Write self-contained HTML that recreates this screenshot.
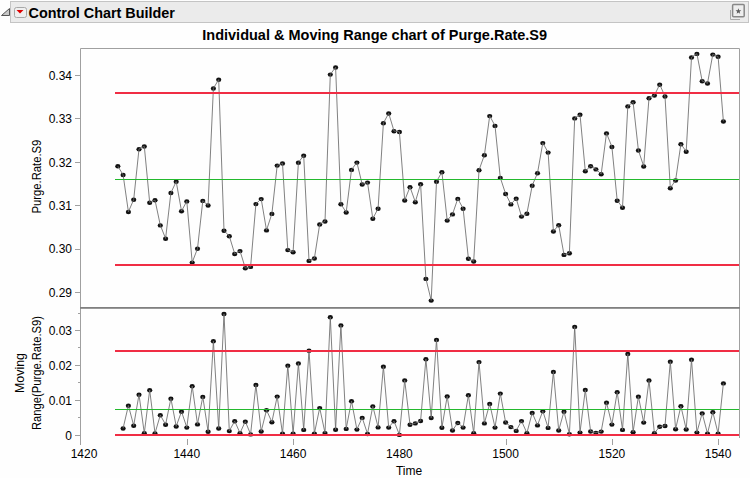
<!DOCTYPE html>
<html><head><meta charset="utf-8"><style>
html,body{margin:0;padding:0;background:#fefefe;}
body{width:750px;height:478px;overflow:hidden;position:relative;font-family:"Liberation Sans", sans-serif;}
svg{position:absolute;left:0;top:0;}
text{font-family:"Liberation Sans", sans-serif;}
</style></head><body>
<svg width="750" height="478" viewBox="0 0 750 478">
<!-- header -->
<rect x="10.5" y="1.5" width="738" height="21" fill="#ebebeb" stroke="#c4c4c4" stroke-width="1"/>
<path d="M1.5 15.5 L9.5 8.5 L9.5 15.5 Z" fill="#c8c8c8" stroke="#555" stroke-width="1" stroke-linejoin="round"/>
<rect x="14.5" y="7.5" width="12" height="10" rx="2" fill="#efefef" stroke="#a8a8a8" stroke-width="1"/>
<path d="M16.5 10 L23.5 10 L20 13.6 Z" fill="#dd0000"/>
<text x="28.6" y="17.6" font-size="14.4" font-weight="bold" fill="#000">Control Chart Builder</text>
<rect x="732.6" y="4.6" width="11.6" height="12.2" rx="1" fill="#eeeeee" stroke="#888" stroke-width="1.5"/>
<path d="M730.5 10 L730.5 19.5 L740 19.5" fill="none" stroke="#aaa" stroke-width="1"/>
<path d="M738.40 8.60 L739.13 10.59 L741.25 10.67 L739.59 11.99 L740.16 14.03 L738.40 12.85 L736.64 14.03 L737.21 11.99 L735.55 10.67 L737.67 10.59 Z" fill="#5c5c5c" transform="translate(0 -0.3)"/>
<!-- title -->
<text x="374.7" y="40" font-size="14.5" font-weight="bold" text-anchor="middle" fill="#000">Individual &amp; Moving Range chart of Purge.Rate.S9</text>
<!-- frames -->
<path d="M80.5 48.5 L739.5 48.5 L739.5 438 M80.5 48.5 L80.5 445" fill="none" stroke="#a0a0a0" stroke-width="1"/>
<rect x="80" y="307" width="660" height="1.8" fill="#808080"/>
<!-- upper ticks -->
<g stroke="#a0a0a0" stroke-width="1">
<line x1="75" y1="75.5" x2="80" y2="75.5"/><line x1="75" y1="118.5" x2="80" y2="118.5"/><line x1="75" y1="162.5" x2="80" y2="162.5"/><line x1="75" y1="205.5" x2="80" y2="205.5"/><line x1="75" y1="249.5" x2="80" y2="249.5"/><line x1="75" y1="292.5" x2="80" y2="292.5"/><line x1="75" y1="435.5" x2="80" y2="435.5"/><line x1="75" y1="400.5" x2="80" y2="400.5"/><line x1="75" y1="365.5" x2="80" y2="365.5"/><line x1="75" y1="330.5" x2="80" y2="330.5"/><line x1="78" y1="417.5" x2="80" y2="417.5"/><line x1="78" y1="382.5" x2="80" y2="382.5"/><line x1="78" y1="347.5" x2="80" y2="347.5"/><line x1="78" y1="313.5" x2="80" y2="313.5"/><line x1="187.5" y1="439" x2="187.5" y2="445"/><line x1="293.5" y1="439" x2="293.5" y2="445"/><line x1="506.5" y1="439" x2="506.5" y2="445"/><line x1="612.5" y1="439" x2="612.5" y2="445"/><line x1="718.5" y1="439" x2="718.5" y2="445"/></g>
<g font-size="12" fill="#000" text-anchor="end"><text x="72" y="79.7">0.34</text><text x="72" y="123.1">0.33</text><text x="72" y="166.5">0.32</text><text x="72" y="209.9">0.31</text><text x="72" y="253.3">0.30</text><text x="72" y="296.7">0.29</text><text x="72" y="439.5">0</text><text x="72" y="404.6">0.01</text><text x="72" y="369.6">0.02</text><text x="72" y="334.7">0.03</text></g>
<g font-size="12" fill="#000" text-anchor="middle"><text x="84.0" y="458">1420</text><text x="186.8" y="458">1440</text><text x="293.1" y="458">1460</text><text x="399.4" y="458">1480</text><text x="505.6" y="458">1500</text><text x="611.9" y="458">1520</text><text x="718.1" y="458">1540</text></g>
<text x="409" y="475" font-size="12" text-anchor="middle" fill="#000">Time</text>
<text transform="translate(40.7 176.6) rotate(-90)" font-size="12" text-anchor="middle" fill="#000" textLength="74" lengthAdjust="spacingAndGlyphs">Purge.Rate.S9</text>
<text transform="translate(24 373) rotate(-90)" font-size="12" text-anchor="middle" fill="#000" textLength="40" lengthAdjust="spacingAndGlyphs">Moving</text>
<text transform="translate(41 373) rotate(-90)" font-size="12" text-anchor="middle" fill="#000" textLength="114" lengthAdjust="spacingAndGlyphs">Range(Purge.Rate.S9)</text>
<g fill="#111"><ellipse cx="117.8" cy="166.3" rx="2.6" ry="2.2"/><ellipse cx="123.1" cy="175.0" rx="2.6" ry="2.2"/><ellipse cx="128.4" cy="212.0" rx="2.6" ry="2.2"/><ellipse cx="133.7" cy="199.8" rx="2.6" ry="2.2"/><ellipse cx="139.0" cy="149.2" rx="2.6" ry="2.2"/><ellipse cx="144.3" cy="146.5" rx="2.6" ry="2.2"/><ellipse cx="149.7" cy="202.8" rx="2.6" ry="2.2"/><ellipse cx="155.0" cy="200.3" rx="2.6" ry="2.2"/><ellipse cx="160.3" cy="225.4" rx="2.6" ry="2.2"/><ellipse cx="165.6" cy="238.7" rx="2.6" ry="2.2"/><ellipse cx="170.9" cy="193.0" rx="2.6" ry="2.2"/><ellipse cx="176.2" cy="181.8" rx="2.6" ry="2.2"/><ellipse cx="181.5" cy="211.2" rx="2.6" ry="2.2"/><ellipse cx="186.8" cy="201.4" rx="2.6" ry="2.2"/><ellipse cx="192.2" cy="262.6" rx="2.6" ry="2.2"/><ellipse cx="197.5" cy="248.8" rx="2.6" ry="2.2"/><ellipse cx="202.8" cy="200.9" rx="2.6" ry="2.2"/><ellipse cx="208.1" cy="205.5" rx="2.6" ry="2.2"/><ellipse cx="213.4" cy="88.5" rx="2.6" ry="2.2"/><ellipse cx="218.7" cy="79.8" rx="2.6" ry="2.2"/><ellipse cx="224.0" cy="230.8" rx="2.6" ry="2.2"/><ellipse cx="229.3" cy="236.3" rx="2.6" ry="2.2"/><ellipse cx="234.7" cy="254.0" rx="2.6" ry="2.2"/><ellipse cx="240.0" cy="251.1" rx="2.6" ry="2.2"/><ellipse cx="245.3" cy="268.3" rx="2.6" ry="2.2"/><ellipse cx="250.6" cy="266.9" rx="2.6" ry="2.2"/><ellipse cx="255.9" cy="204.1" rx="2.6" ry="2.2"/><ellipse cx="261.2" cy="199.1" rx="2.6" ry="2.2"/><ellipse cx="266.5" cy="230.4" rx="2.6" ry="2.2"/><ellipse cx="271.9" cy="213.9" rx="2.6" ry="2.2"/><ellipse cx="277.2" cy="165.6" rx="2.6" ry="2.2"/><ellipse cx="282.5" cy="163.5" rx="2.6" ry="2.2"/><ellipse cx="287.8" cy="250.1" rx="2.6" ry="2.2"/><ellipse cx="293.1" cy="252.2" rx="2.6" ry="2.2"/><ellipse cx="298.4" cy="162.7" rx="2.6" ry="2.2"/><ellipse cx="303.7" cy="155.7" rx="2.6" ry="2.2"/><ellipse cx="309.0" cy="260.9" rx="2.6" ry="2.2"/><ellipse cx="314.4" cy="258.5" rx="2.6" ry="2.2"/><ellipse cx="319.7" cy="224.5" rx="2.6" ry="2.2"/><ellipse cx="325.0" cy="221.5" rx="2.6" ry="2.2"/><ellipse cx="330.3" cy="74.6" rx="2.6" ry="2.2"/><ellipse cx="335.6" cy="67.5" rx="2.6" ry="2.2"/><ellipse cx="340.9" cy="204.3" rx="2.6" ry="2.2"/><ellipse cx="346.2" cy="212.5" rx="2.6" ry="2.2"/><ellipse cx="351.5" cy="169.9" rx="2.6" ry="2.2"/><ellipse cx="356.9" cy="162.6" rx="2.6" ry="2.2"/><ellipse cx="362.2" cy="184.5" rx="2.6" ry="2.2"/><ellipse cx="367.5" cy="182.6" rx="2.6" ry="2.2"/><ellipse cx="372.8" cy="218.8" rx="2.6" ry="2.2"/><ellipse cx="378.1" cy="208.7" rx="2.6" ry="2.2"/><ellipse cx="383.4" cy="123.3" rx="2.6" ry="2.2"/><ellipse cx="388.7" cy="113.5" rx="2.6" ry="2.2"/><ellipse cx="394.0" cy="131.2" rx="2.6" ry="2.2"/><ellipse cx="399.4" cy="132.0" rx="2.6" ry="2.2"/><ellipse cx="404.7" cy="200.5" rx="2.6" ry="2.2"/><ellipse cx="410.0" cy="187.2" rx="2.6" ry="2.2"/><ellipse cx="415.3" cy="202.2" rx="2.6" ry="2.2"/><ellipse cx="420.6" cy="184.2" rx="2.6" ry="2.2"/><ellipse cx="425.9" cy="278.9" rx="2.6" ry="2.2"/><ellipse cx="431.2" cy="300.6" rx="2.6" ry="2.2"/><ellipse cx="436.5" cy="181.8" rx="2.6" ry="2.2"/><ellipse cx="441.9" cy="172.2" rx="2.6" ry="2.2"/><ellipse cx="447.2" cy="220.6" rx="2.6" ry="2.2"/><ellipse cx="452.5" cy="214.4" rx="2.6" ry="2.2"/><ellipse cx="457.8" cy="198.9" rx="2.6" ry="2.2"/><ellipse cx="463.1" cy="208.7" rx="2.6" ry="2.2"/><ellipse cx="468.4" cy="258.7" rx="2.6" ry="2.2"/><ellipse cx="473.7" cy="261.5" rx="2.6" ry="2.2"/><ellipse cx="479.0" cy="170.3" rx="2.6" ry="2.2"/><ellipse cx="484.4" cy="155.3" rx="2.6" ry="2.2"/><ellipse cx="489.7" cy="116.1" rx="2.6" ry="2.2"/><ellipse cx="495.0" cy="125.9" rx="2.6" ry="2.2"/><ellipse cx="500.3" cy="177.9" rx="2.6" ry="2.2"/><ellipse cx="505.6" cy="194.0" rx="2.6" ry="2.2"/><ellipse cx="510.9" cy="204.4" rx="2.6" ry="2.2"/><ellipse cx="516.2" cy="198.7" rx="2.6" ry="2.2"/><ellipse cx="521.5" cy="216.6" rx="2.6" ry="2.2"/><ellipse cx="526.9" cy="213.8" rx="2.6" ry="2.2"/><ellipse cx="532.2" cy="185.8" rx="2.6" ry="2.2"/><ellipse cx="537.5" cy="173.3" rx="2.6" ry="2.2"/><ellipse cx="542.8" cy="143.1" rx="2.6" ry="2.2"/><ellipse cx="548.1" cy="152.6" rx="2.6" ry="2.2"/><ellipse cx="553.4" cy="231.5" rx="2.6" ry="2.2"/><ellipse cx="558.7" cy="225.3" rx="2.6" ry="2.2"/><ellipse cx="564.0" cy="254.9" rx="2.6" ry="2.2"/><ellipse cx="569.4" cy="253.3" rx="2.6" ry="2.2"/><ellipse cx="574.7" cy="118.4" rx="2.6" ry="2.2"/><ellipse cx="580.0" cy="114.8" rx="2.6" ry="2.2"/><ellipse cx="585.3" cy="171.3" rx="2.6" ry="2.2"/><ellipse cx="590.6" cy="166.3" rx="2.6" ry="2.2"/><ellipse cx="595.9" cy="169.4" rx="2.6" ry="2.2"/><ellipse cx="601.2" cy="174.2" rx="2.6" ry="2.2"/><ellipse cx="606.5" cy="133.4" rx="2.6" ry="2.2"/><ellipse cx="611.9" cy="147.0" rx="2.6" ry="2.2"/><ellipse cx="617.2" cy="200.7" rx="2.6" ry="2.2"/><ellipse cx="622.5" cy="207.7" rx="2.6" ry="2.2"/><ellipse cx="627.8" cy="106.4" rx="2.6" ry="2.2"/><ellipse cx="633.1" cy="102.3" rx="2.6" ry="2.2"/><ellipse cx="638.4" cy="150.5" rx="2.6" ry="2.2"/><ellipse cx="643.7" cy="166.5" rx="2.6" ry="2.2"/><ellipse cx="649.0" cy="98.2" rx="2.6" ry="2.2"/><ellipse cx="654.4" cy="95.5" rx="2.6" ry="2.2"/><ellipse cx="659.7" cy="84.7" rx="2.6" ry="2.2"/><ellipse cx="665.0" cy="96.5" rx="2.6" ry="2.2"/><ellipse cx="670.3" cy="188.2" rx="2.6" ry="2.2"/><ellipse cx="675.6" cy="180.5" rx="2.6" ry="2.2"/><ellipse cx="680.9" cy="144.2" rx="2.6" ry="2.2"/><ellipse cx="686.2" cy="151.7" rx="2.6" ry="2.2"/><ellipse cx="691.5" cy="57.5" rx="2.6" ry="2.2"/><ellipse cx="696.9" cy="53.9" rx="2.6" ry="2.2"/><ellipse cx="702.2" cy="81.3" rx="2.6" ry="2.2"/><ellipse cx="707.5" cy="83.5" rx="2.6" ry="2.2"/><ellipse cx="712.8" cy="54.6" rx="2.6" ry="2.2"/><ellipse cx="718.1" cy="56.8" rx="2.6" ry="2.2"/><ellipse cx="723.4" cy="121.5" rx="2.6" ry="2.2"/><ellipse cx="123.1" cy="428.5" rx="2.6" ry="2.2"/><ellipse cx="128.4" cy="405.7" rx="2.6" ry="2.2"/><ellipse cx="133.7" cy="425.7" rx="2.6" ry="2.2"/><ellipse cx="139.0" cy="394.8" rx="2.6" ry="2.2"/><ellipse cx="144.3" cy="433.3" rx="2.6" ry="2.2"/><ellipse cx="149.7" cy="390.2" rx="2.6" ry="2.2"/><ellipse cx="155.0" cy="433.5" rx="2.6" ry="2.2"/><ellipse cx="160.3" cy="415.3" rx="2.6" ry="2.2"/><ellipse cx="165.6" cy="424.8" rx="2.6" ry="2.2"/><ellipse cx="170.9" cy="398.7" rx="2.6" ry="2.2"/><ellipse cx="176.2" cy="426.5" rx="2.6" ry="2.2"/><ellipse cx="181.5" cy="411.8" rx="2.6" ry="2.2"/><ellipse cx="186.8" cy="427.6" rx="2.6" ry="2.2"/><ellipse cx="192.2" cy="386.2" rx="2.6" ry="2.2"/><ellipse cx="197.5" cy="424.4" rx="2.6" ry="2.2"/><ellipse cx="202.8" cy="396.9" rx="2.6" ry="2.2"/><ellipse cx="208.1" cy="431.8" rx="2.6" ry="2.2"/><ellipse cx="213.4" cy="341.3" rx="2.6" ry="2.2"/><ellipse cx="218.7" cy="428.5" rx="2.6" ry="2.2"/><ellipse cx="224.0" cy="314.0" rx="2.6" ry="2.2"/><ellipse cx="229.3" cy="431.1" rx="2.6" ry="2.2"/><ellipse cx="234.7" cy="421.3" rx="2.6" ry="2.2"/><ellipse cx="240.0" cy="433.2" rx="2.6" ry="2.2"/><ellipse cx="245.3" cy="421.7" rx="2.6" ry="2.2"/><ellipse cx="250.6" cy="434.4" rx="2.6" ry="2.2"/><ellipse cx="255.9" cy="385.0" rx="2.6" ry="2.2"/><ellipse cx="261.2" cy="431.5" rx="2.6" ry="2.2"/><ellipse cx="266.5" cy="410.3" rx="2.6" ry="2.2"/><ellipse cx="271.9" cy="422.2" rx="2.6" ry="2.2"/><ellipse cx="277.2" cy="396.6" rx="2.6" ry="2.2"/><ellipse cx="282.5" cy="433.8" rx="2.6" ry="2.2"/><ellipse cx="287.8" cy="365.8" rx="2.6" ry="2.2"/><ellipse cx="293.1" cy="433.8" rx="2.6" ry="2.2"/><ellipse cx="298.4" cy="363.5" rx="2.6" ry="2.2"/><ellipse cx="303.7" cy="429.9" rx="2.6" ry="2.2"/><ellipse cx="309.0" cy="350.8" rx="2.6" ry="2.2"/><ellipse cx="314.4" cy="433.6" rx="2.6" ry="2.2"/><ellipse cx="319.7" cy="408.1" rx="2.6" ry="2.2"/><ellipse cx="325.0" cy="433.1" rx="2.6" ry="2.2"/><ellipse cx="330.3" cy="317.3" rx="2.6" ry="2.2"/><ellipse cx="335.6" cy="429.8" rx="2.6" ry="2.2"/><ellipse cx="340.9" cy="325.4" rx="2.6" ry="2.2"/><ellipse cx="346.2" cy="428.9" rx="2.6" ry="2.2"/><ellipse cx="351.5" cy="401.2" rx="2.6" ry="2.2"/><ellipse cx="356.9" cy="429.6" rx="2.6" ry="2.2"/><ellipse cx="362.2" cy="417.9" rx="2.6" ry="2.2"/><ellipse cx="367.5" cy="434.0" rx="2.6" ry="2.2"/><ellipse cx="372.8" cy="406.4" rx="2.6" ry="2.2"/><ellipse cx="378.1" cy="427.4" rx="2.6" ry="2.2"/><ellipse cx="383.4" cy="366.8" rx="2.6" ry="2.2"/><ellipse cx="388.7" cy="427.6" rx="2.6" ry="2.2"/><ellipse cx="394.0" cy="421.3" rx="2.6" ry="2.2"/><ellipse cx="399.4" cy="434.9" rx="2.6" ry="2.2"/><ellipse cx="404.7" cy="380.4" rx="2.6" ry="2.2"/><ellipse cx="410.0" cy="424.8" rx="2.6" ry="2.2"/><ellipse cx="415.3" cy="423.4" rx="2.6" ry="2.2"/><ellipse cx="420.6" cy="421.0" rx="2.6" ry="2.2"/><ellipse cx="425.9" cy="359.3" rx="2.6" ry="2.2"/><ellipse cx="431.2" cy="418.0" rx="2.6" ry="2.2"/><ellipse cx="436.5" cy="339.9" rx="2.6" ry="2.2"/><ellipse cx="441.9" cy="427.8" rx="2.6" ry="2.2"/><ellipse cx="447.2" cy="396.5" rx="2.6" ry="2.2"/><ellipse cx="452.5" cy="430.5" rx="2.6" ry="2.2"/><ellipse cx="457.8" cy="423.0" rx="2.6" ry="2.2"/><ellipse cx="463.1" cy="427.6" rx="2.6" ry="2.2"/><ellipse cx="468.4" cy="395.3" rx="2.6" ry="2.2"/><ellipse cx="473.7" cy="433.2" rx="2.6" ry="2.2"/><ellipse cx="479.0" cy="362.1" rx="2.6" ry="2.2"/><ellipse cx="484.4" cy="423.4" rx="2.6" ry="2.2"/><ellipse cx="489.7" cy="404.0" rx="2.6" ry="2.2"/><ellipse cx="495.0" cy="427.6" rx="2.6" ry="2.2"/><ellipse cx="500.3" cy="393.6" rx="2.6" ry="2.2"/><ellipse cx="505.6" cy="422.5" rx="2.6" ry="2.2"/><ellipse cx="510.9" cy="427.1" rx="2.6" ry="2.2"/><ellipse cx="516.2" cy="430.9" rx="2.6" ry="2.2"/><ellipse cx="521.5" cy="421.1" rx="2.6" ry="2.2"/><ellipse cx="526.9" cy="433.2" rx="2.6" ry="2.2"/><ellipse cx="532.2" cy="413.0" rx="2.6" ry="2.2"/><ellipse cx="537.5" cy="425.4" rx="2.6" ry="2.2"/><ellipse cx="542.8" cy="411.2" rx="2.6" ry="2.2"/><ellipse cx="548.1" cy="427.9" rx="2.6" ry="2.2"/><ellipse cx="553.4" cy="372.0" rx="2.6" ry="2.2"/><ellipse cx="558.7" cy="430.5" rx="2.6" ry="2.2"/><ellipse cx="564.0" cy="411.7" rx="2.6" ry="2.2"/><ellipse cx="569.4" cy="434.2" rx="2.6" ry="2.2"/><ellipse cx="574.7" cy="326.9" rx="2.6" ry="2.2"/><ellipse cx="580.0" cy="432.6" rx="2.6" ry="2.2"/><ellipse cx="585.3" cy="390.0" rx="2.6" ry="2.2"/><ellipse cx="590.6" cy="431.5" rx="2.6" ry="2.2"/><ellipse cx="595.9" cy="433.0" rx="2.6" ry="2.2"/><ellipse cx="601.2" cy="431.6" rx="2.6" ry="2.2"/><ellipse cx="606.5" cy="402.7" rx="2.6" ry="2.2"/><ellipse cx="611.9" cy="424.6" rx="2.6" ry="2.2"/><ellipse cx="617.2" cy="392.3" rx="2.6" ry="2.2"/><ellipse cx="622.5" cy="429.9" rx="2.6" ry="2.2"/><ellipse cx="627.8" cy="354.0" rx="2.6" ry="2.2"/><ellipse cx="633.1" cy="432.2" rx="2.6" ry="2.2"/><ellipse cx="638.4" cy="396.7" rx="2.6" ry="2.2"/><ellipse cx="643.7" cy="422.6" rx="2.6" ry="2.2"/><ellipse cx="649.0" cy="380.5" rx="2.6" ry="2.2"/><ellipse cx="654.4" cy="433.3" rx="2.6" ry="2.2"/><ellipse cx="659.7" cy="426.8" rx="2.6" ry="2.2"/><ellipse cx="665.0" cy="426.0" rx="2.6" ry="2.2"/><ellipse cx="670.3" cy="361.7" rx="2.6" ry="2.2"/><ellipse cx="675.6" cy="429.3" rx="2.6" ry="2.2"/><ellipse cx="680.9" cy="406.3" rx="2.6" ry="2.2"/><ellipse cx="686.2" cy="429.5" rx="2.6" ry="2.2"/><ellipse cx="691.5" cy="359.7" rx="2.6" ry="2.2"/><ellipse cx="696.9" cy="432.6" rx="2.6" ry="2.2"/><ellipse cx="702.2" cy="413.4" rx="2.6" ry="2.2"/><ellipse cx="707.5" cy="433.7" rx="2.6" ry="2.2"/><ellipse cx="712.8" cy="412.2" rx="2.6" ry="2.2"/><ellipse cx="718.1" cy="433.7" rx="2.6" ry="2.2"/><ellipse cx="723.4" cy="383.4" rx="2.6" ry="2.2"/></g>
<path d="M117.8 166.1 L123.1 174.8 L128.4 211.8 L133.7 199.6 L139.0 149.0 L144.3 146.3 L149.7 202.6 L155.0 200.1 L160.3 225.2 L165.6 238.5 L170.9 192.8 L176.2 181.6 L181.5 211.0 L186.8 201.2 L192.2 262.4 L197.5 248.6 L202.8 200.7 L208.1 205.3 L213.4 88.3 L218.7 79.6 L224.0 230.6 L229.3 236.1 L234.7 253.8 L240.0 250.9 L245.3 268.1 L250.6 266.7 L255.9 203.9 L261.2 198.9 L266.5 230.2 L271.9 213.7 L277.2 165.4 L282.5 163.3 L287.8 249.9 L293.1 252.0 L298.4 162.5 L303.7 155.5 L309.0 260.7 L314.4 258.3 L319.7 224.3 L325.0 221.3 L330.3 74.4 L335.6 67.3 L340.9 204.1 L346.2 212.3 L351.5 169.7 L356.9 162.4 L362.2 184.3 L367.5 182.4 L372.8 218.6 L378.1 208.5 L383.4 123.1 L388.7 113.3 L394.0 131.0 L399.4 131.8 L404.7 200.3 L410.0 187.0 L415.3 202.0 L420.6 184.0 L425.9 278.7 L431.2 300.4 L436.5 181.6 L441.9 172.0 L447.2 220.4 L452.5 214.2 L457.8 198.7 L463.1 208.5 L468.4 258.5 L473.7 261.3 L479.0 170.1 L484.4 155.1 L489.7 115.9 L495.0 125.7 L500.3 177.7 L505.6 193.8 L510.9 204.2 L516.2 198.5 L521.5 216.4 L526.9 213.6 L532.2 185.6 L537.5 173.1 L542.8 142.9 L548.1 152.4 L553.4 231.3 L558.7 225.1 L564.0 254.7 L569.4 253.1 L574.7 118.2 L580.0 114.6 L585.3 171.1 L590.6 166.1 L595.9 169.2 L601.2 174.0 L606.5 133.2 L611.9 146.8 L617.2 200.5 L622.5 207.5 L627.8 106.2 L633.1 102.1 L638.4 150.3 L643.7 166.3 L649.0 98.0 L654.4 95.3 L659.7 84.5 L665.0 96.3 L670.3 188.0 L675.6 180.3 L680.9 144.0 L686.2 151.5 L691.5 57.3 L696.9 53.7 L702.2 81.1 L707.5 83.3 L712.8 54.4 L718.1 56.6 L723.4 121.3" fill="none" stroke="#6a6a6a" stroke-width="0.85"/>
<path d="M123.1 428.3 L128.4 405.5 L133.7 425.5 L139.0 394.6 L144.3 433.1 L149.7 390.0 L155.0 433.3 L160.3 415.1 L165.6 424.6 L170.9 398.5 L176.2 426.3 L181.5 411.6 L186.8 427.4 L192.2 386.0 L197.5 424.2 L202.8 396.7 L208.1 431.6 L213.4 341.1 L218.7 428.3 L224.0 313.8 L229.3 430.9 L234.7 421.1 L240.0 433.0 L245.3 421.5 L250.6 434.2 L255.9 384.8 L261.2 431.3 L266.5 410.1 L271.9 422.0 L277.2 396.4 L282.5 433.6 L287.8 365.6 L293.1 433.6 L298.4 363.3 L303.7 429.7 L309.0 350.6 L314.4 433.4 L319.7 407.9 L325.0 432.9 L330.3 317.1 L335.6 429.6 L340.9 325.2 L346.2 428.7 L351.5 401.0 L356.9 429.4 L362.2 417.7 L367.5 433.8 L372.8 406.2 L378.1 427.2 L383.4 366.6 L388.7 427.4 L394.0 421.1 L399.4 434.7 L404.7 380.2 L410.0 424.6 L415.3 423.2 L420.6 420.8 L425.9 359.1 L431.2 417.8 L436.5 339.7 L441.9 427.6 L447.2 396.3 L452.5 430.3 L457.8 422.8 L463.1 427.4 L468.4 395.1 L473.7 433.0 L479.0 361.9 L484.4 423.2 L489.7 403.8 L495.0 427.4 L500.3 393.4 L505.6 422.3 L510.9 426.9 L516.2 430.7 L521.5 420.9 L526.9 433.0 L532.2 412.8 L537.5 425.2 L542.8 411.0 L548.1 427.7 L553.4 371.8 L558.7 430.3 L564.0 411.5 L569.4 434.0 L574.7 326.7 L580.0 432.4 L585.3 389.8 L590.6 431.3 L595.9 432.8 L601.2 431.4 L606.5 402.5 L611.9 424.4 L617.2 392.1 L622.5 429.7 L627.8 353.8 L633.1 432.0 L638.4 396.5 L643.7 422.4 L649.0 380.3 L654.4 433.1 L659.7 426.6 L665.0 425.8 L670.3 361.5 L675.6 429.1 L680.9 406.1 L686.2 429.3 L691.5 359.5 L696.9 432.4 L702.2 413.2 L707.5 433.5 L712.8 412.0 L718.1 433.5 L723.4 383.2" fill="none" stroke="#6a6a6a" stroke-width="0.85"/>
<g><rect x="115" y="92" width="624" height="2" fill="#f02d44"/><rect x="115" y="179" width="624" height="1" fill="#23b92d"/><rect x="115" y="264" width="624" height="2" fill="#f02d44"/><rect x="115" y="350" width="624" height="2" fill="#f02d44"/><rect x="115" y="409" width="624" height="1" fill="#23b92d"/><rect x="115" y="434" width="624" height="2" fill="#f02d44"/></g>
</svg>
</body></html>
